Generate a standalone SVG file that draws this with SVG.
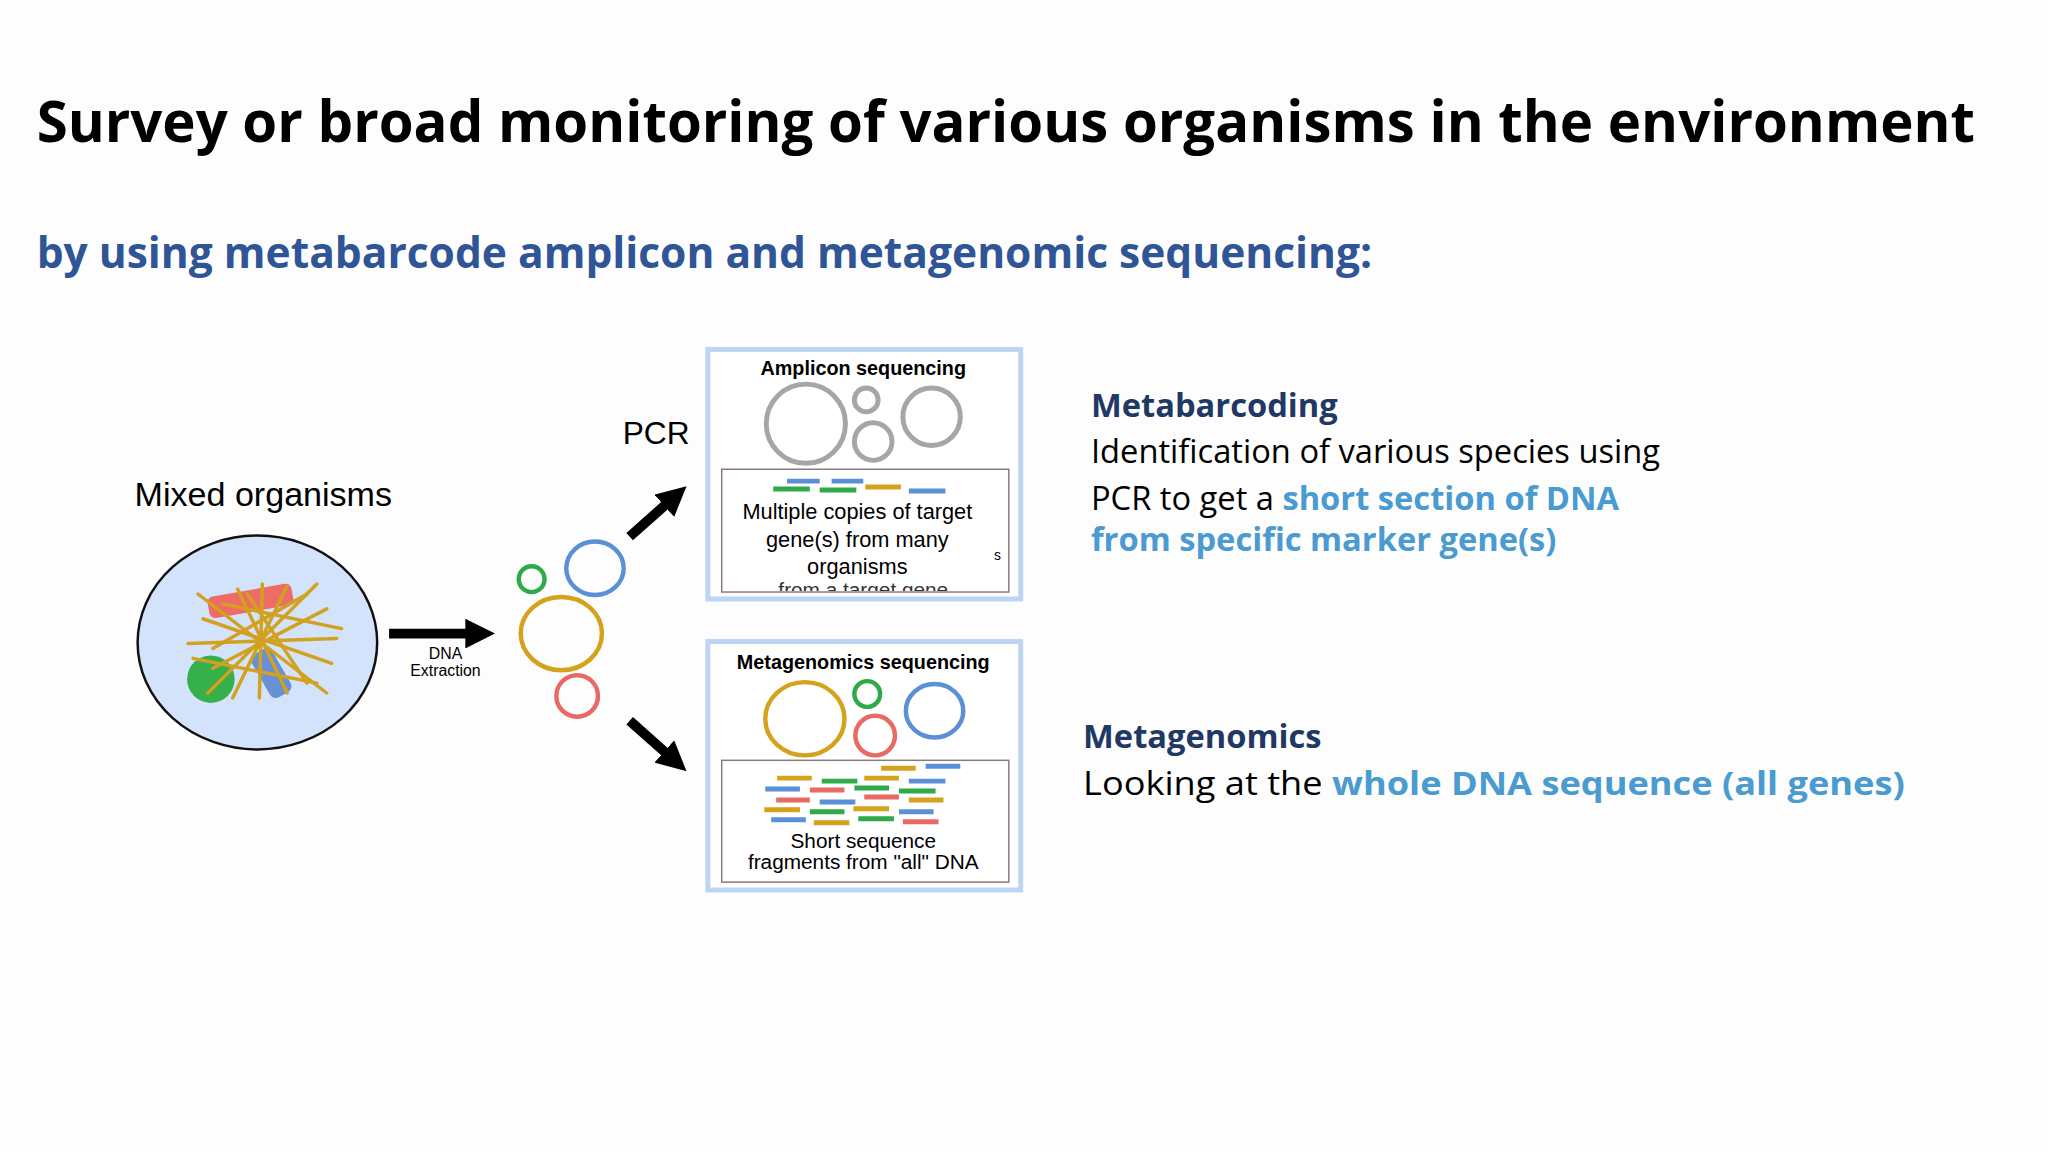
<svg xmlns="http://www.w3.org/2000/svg" width="2048" height="1152" viewBox="0 0 2048 1152">
<defs>
<style>
.t{font-family:"Open Sans","Noto Sans",sans-serif}
.a{font-family:"Liberation Sans",Arial,sans-serif}
.gray{fill:none;stroke:#a6a6a6;stroke-width:5}
.bar{stroke-width:5}
.b{stroke:#5b8fd6}.g{stroke:#2eab48}.y{stroke:#d4a21c}.r{stroke:#e86a64}
.ob{fill:#fff;stroke:#bcd5f2;stroke-width:5}
.ib{fill:#fff;stroke:#8a7a7a;stroke-width:1.5}
</style>
<marker id="ah" markerWidth="3" markerHeight="3" refX="1.2" refY="1.5" orient="auto"><path d="M0,0L3,1.5L0,3z" fill="#000"/></marker>
<clipPath id="c1"><rect x="729" y="475" width="289" height="122"/></clipPath>
</defs>
<rect width="2048" height="1152" fill="#fdfdfd"/>
<g transform="scale(0.99)">
<text class="t" x="37" y="143" font-size="58" font-weight="bold" textLength="1958" lengthAdjust="spacingAndGlyphs">Survey or broad monitoring of various organisms in the environment</text>
<text class="t" x="37" y="271" font-size="44" font-weight="bold" fill="#2f5597" textLength="1349" lengthAdjust="spacingAndGlyphs">by using metabarcode amplicon and metagenomic sequencing:</text>

<g id="mixed">
<text class="a" x="136" y="511" font-size="33" textLength="260" lengthAdjust="spacingAndGlyphs">Mixed organisms</text>
<ellipse cx="260" cy="649" rx="121" ry="108" fill="#d3e3fb" stroke="#111" stroke-width="2.5"/>
<rect x="210" y="596" width="86" height="22" rx="6" fill="#ee6b66" transform="rotate(-10 253 607)"/>
<circle cx="213" cy="686" r="24" fill="#35b04a"/>
<rect x="262" y="655" width="24" height="50" rx="7" fill="#6791d4" transform="rotate(-30 274 680)"/>
<g stroke="#d1a11f" stroke-width="3.5" stroke-linecap="round">
<line x1="200" y1="600" x2="330" y2="700"/><line x1="210" y1="700" x2="320" y2="590"/>
<line x1="190" y1="650" x2="340" y2="645"/><line x1="265" y1="590" x2="262" y2="705"/>
<line x1="205" y1="625" x2="335" y2="670"/><line x1="215" y1="675" x2="330" y2="615"/>
<line x1="240" y1="595" x2="290" y2="700"/><line x1="290" y1="592" x2="235" y2="705"/>
<line x1="195" y1="665" x2="320" y2="690"/><line x1="225" y1="610" x2="345" y2="635"/>
<line x1="310" y1="600" x2="215" y2="655"/><line x1="250" y1="600" x2="310" y2="690"/>
</g>
</g>

<g id="connectors">
<line x1="393" y1="640" x2="482" y2="640" stroke="#000" stroke-width="10" marker-end="url(#ah)"/>
<line x1="636" y1="542" x2="680" y2="503" stroke="#000" stroke-width="10" marker-end="url(#ah)"/>
<line x1="636" y1="728" x2="680" y2="767" stroke="#000" stroke-width="10" marker-end="url(#ah)"/>
</g>
<text class="a" x="450" y="666" font-size="16" text-anchor="middle">DNA</text>
<text class="a" x="450" y="683" font-size="16" text-anchor="middle">Extraction</text>
<text class="a" x="629" y="449" font-size="32">PCR</text>

<g id="dna" fill="none" stroke-width="4.5">
<circle cx="537" cy="585" r="13" stroke="#2eab48"/>
<ellipse cx="601" cy="574" rx="29" ry="27" stroke="#5b8fd6"/>
<ellipse cx="567" cy="640" rx="41" ry="37" stroke="#d4a21c"/>
<circle cx="583" cy="703" r="21" stroke="#e86a64"/>
</g>

<g id="amplicon">
<rect class="ob" x="715" y="353" width="316" height="252"/>
<text class="a" x="872" y="379" font-size="20" font-weight="bold" text-anchor="middle">Amplicon sequencing</text>
<circle class="gray" cx="814" cy="428" r="40"/><circle class="gray" cx="875" cy="404" r="12"/>
<circle class="gray" cx="882" cy="446" r="19"/><circle class="gray" cx="941" cy="421" r="29"/>
<rect class="ib" x="729" y="474" width="290" height="124"/>
<line class="bar b" x1="795" y1="486" x2="828" y2="486"/><line class="bar b" x1="840" y1="486" x2="872" y2="486"/>
<line class="bar g" x1="781" y1="494" x2="818" y2="494"/><line class="bar g" x1="828" y1="495" x2="865" y2="495"/>
<line class="bar y" x1="874" y1="492" x2="910" y2="492"/><line class="bar b" x1="918" y1="496" x2="955" y2="496"/>
<g clip-path="url(#c1)"><text class="a" x="872" y="603" font-size="21" text-anchor="middle" fill="#333">from a target gene</text></g>
<text class="a" x="1004" y="566" font-size="14">s</text>
<text class="a" x="866" y="524" font-size="22" text-anchor="middle">Multiple copies of target</text>
<text class="a" x="866" y="553" font-size="22" text-anchor="middle">gene(s) from many</text>
<text class="a" x="866" y="580" font-size="22" text-anchor="middle">organisms</text>
</g>

<g id="metagenomics">
<rect class="ob" x="715" y="648" width="316" height="251"/>
<text class="a" x="872" y="676" font-size="20" font-weight="bold" text-anchor="middle">Metagenomics sequencing</text>
<g fill="none" stroke-width="4.5">
<ellipse cx="813" cy="726" rx="40" ry="37" stroke="#d4a21c"/><circle cx="876" cy="701" r="13" stroke="#2eab48"/>
<circle cx="884" cy="743" r="20" stroke="#e86a64"/><ellipse cx="944" cy="718" rx="29" ry="27" stroke="#5b8fd6"/>
</g>
<rect class="ib" x="729" y="768" width="290" height="123"/>
<g>
<line class="bar y" x1="890" y1="776" x2="925" y2="776"/><line class="bar b" x1="935" y1="774" x2="970" y2="774"/>
<line class="bar y" x1="785" y1="786" x2="820" y2="786"/><line class="bar g" x1="830" y1="789" x2="866" y2="789"/><line class="bar y" x1="873" y1="786" x2="908" y2="786"/><line class="bar b" x1="918" y1="789" x2="955" y2="789"/>
<line class="bar b" x1="773" y1="797" x2="808" y2="797"/><line class="bar r" x1="818" y1="798" x2="853" y2="798"/><line class="bar g" x1="863" y1="796" x2="898" y2="796"/><line class="bar g" x1="908" y1="799" x2="945" y2="799"/>
<line class="bar r" x1="784" y1="808" x2="818" y2="808"/><line class="bar b" x1="828" y1="810" x2="864" y2="810"/><line class="bar r" x1="873" y1="805" x2="908" y2="805"/><line class="bar y" x1="918" y1="808" x2="953" y2="808"/>
<line class="bar y" x1="772" y1="818" x2="808" y2="818"/><line class="bar g" x1="818" y1="820" x2="853" y2="820"/><line class="bar y" x1="862" y1="817" x2="898" y2="817"/><line class="bar b" x1="908" y1="820" x2="943" y2="820"/>
<line class="bar b" x1="779" y1="828" x2="814" y2="828"/><line class="bar y" x1="822" y1="831" x2="858" y2="831"/><line class="bar g" x1="867" y1="827" x2="903" y2="827"/><line class="bar r" x1="912" y1="830" x2="948" y2="830"/>
</g>
<text class="a" x="872" y="857" font-size="21" text-anchor="middle">Short sequence</text>
<text class="a" x="872" y="878" font-size="21" text-anchor="middle">fragments from "all" DNA</text>
</g>

<g id="metabarcoding-text" class="t" font-size="33">
<text x="1102" y="421" font-weight="bold" fill="#1f3864">Metabarcoding</text>
<text x="1102" y="468">Identification of various species using</text>
<text x="1102" y="515">PCR to get a <tspan font-weight="bold" fill="#4a9bd0">short section of DNA</tspan></text>
<text x="1102" y="557" font-weight="bold" fill="#4a9bd0">from specific marker gene(s)</text>
</g>
<g id="metagenomics-text" class="t" font-size="33">
<text x="1094" y="756" font-weight="bold" fill="#1f3864">Metagenomics</text>
<text x="1094" y="803" textLength="830" lengthAdjust="spacingAndGlyphs">Looking at the <tspan font-weight="bold" fill="#4a9bd0">whole DNA sequence (all genes)</tspan></text>
</g>
</g>
</svg>
